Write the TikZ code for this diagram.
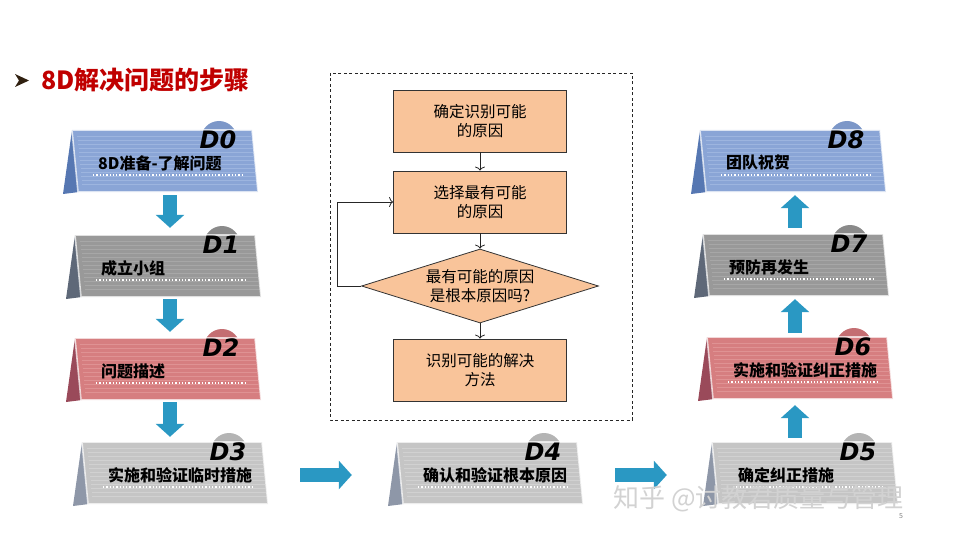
\documentclass[tikz,border=0pt]{standalone}
\usepackage{fontspec}
\setmainfont{Noto Sans CJK SC}
\newfontfamily\dfont{DejaVu Sans}
\usetikzlibrary{arrows.meta}
\usetikzlibrary{calc}
\usetikzlibrary{shapes.geometric}

% card colours: F face, T stripes, S side, B tab
\definecolor{blF}{HTML}{8AA5D6}
\definecolor{blT}{HTML}{A6BCE3}
\definecolor{blS}{HTML}{5677B2}
\definecolor{blB}{HTML}{7C97C8}
\definecolor{grF}{HTML}{999999}
\definecolor{grT}{HTML}{ADADAD}
\definecolor{grS}{HTML}{5E6878}
\definecolor{grB}{HTML}{8A8A8A}
\definecolor{pkF}{HTML}{D67E80}
\definecolor{pkT}{HTML}{E39B9C}
\definecolor{pkS}{HTML}{9A4A5A}
\definecolor{pkB}{HTML}{C46E72}
\definecolor{ltF}{HTML}{C5C5C5}
\definecolor{ltT}{HTML}{D7D7D7}
\definecolor{ltS}{HTML}{8E97A8}
\definecolor{ltB}{HTML}{B4B4B4}
\definecolor{peach}{HTML}{F9C49A}
\definecolor{arrowblue}{HTML}{2A98C3}
\definecolor{titlered}{HTML}{C00000}

\tikzset{
  cardtext/.style={anchor=west, inner sep=0, font=\fontsize{16}{16}\selectfont\bfseries},
  dlabel/.style={inner sep=0, font=\dfont\fontsize{24}{24}\selectfont\bfseries\itshape},
  blockarr/.style={arrowblue, line width=14pt, -{Triangle[length=13pt,width=28pt]}},
  fbox/.style={draw=black!80, fill=peach, line width=0.8pt, minimum width=173, minimum height=62,
    align=center, font=\fontsize{15.5}{19.5}\selectfont},
  fdia/.style={diamond, draw=black!80, fill=peach, line width=0.8pt, inner sep=0, aspect=3.2,
    minimum width=237, minimum height=74, align=center, font=\fontsize{15.5}{19.5}\selectfont},
  flow/.style={black!85, line width=0.8pt, ->, >={To[length=4pt,width=10pt]}}
}

\begin{document}
\begin{tikzpicture}[x=1pt,y=-1pt]
\useasboundingbox (0,0) rectangle (960,540);

% title
\fill[black!75!brown] (15,74) -- (29,80.5) -- (15,87) -- (19,80.5) -- cycle;
\node[anchor=west, inner sep=0, text=titlered, font=\fontsize{25}{25}\selectfont\bfseries] (title) at (41,80) {8D解决问题的步骤};

% cards D0 .. D8
\foreach \x/\y/\n/\txt/\sch in {72/130/0/{8D准备-了解问题}/bl, 75/235/1/{成立小组}/gr,
    75/338/2/{问题描述}/pk, 82/442/3/{实施和验证临时措施}/lt, 397/442/4/{确认和验证根本原因}/lt,
    712/442/5/{确定纠正措施}/lt, 707/337/6/{实施和验证纠正措施}/pk, 703/234/7/{预防再发生}/gr,
    700/130/8/{团队祝贺}/bl} {
  \fill[\sch B] (\x+147,\y+9) circle (18);
  \fill[\sch S] (\x,\y) -- (\x-9,\y+64) -- (\x+7,\y+62) -- cycle;
  \filldraw[fill=\sch F, draw=white, draw opacity=0.7, line width=1.6pt]
    (\x,\y) -- (\x+180,\y) -- (\x+186,\y+62) -- (\x+6,\y+62) -- cycle;
  \foreach \k in {1,...,13}
    \draw[\sch T, line width=0.8pt, opacity=0.7] (\x+5+0.4*\k,\y+4*\k+2) -- (\x+179+0.4*\k,\y+4*\k+2);
  \draw[white, line width=1.3pt, dotted] (\x+21,\y+45) -- (\x+172,\y+45);
  \node[inner sep=0, minimum width=186, minimum height=62] (d\n) at (\x+93,\y+31) {};
  \node[cardtext] (t\n) at (\x+26,\y+33) {\txt};
  \node[dlabel] (l\n) at (\x+146,\y+10) {D\n};
}

% step arrows
\draw[blockarr] ([xshift=5pt,yshift=-3pt]d0.south) -- ([xshift=2pt,yshift=7pt]d1.north);
\draw[blockarr] ([xshift=2pt,yshift=-2pt]d1.south) -- ([xshift=2pt,yshift=6pt]d2.north);
\draw[blockarr] ([xshift=2pt,yshift=-2pt]d2.south) -- ([xshift=-5pt,yshift=5pt]d3.north);
\draw[blockarr] ([xshift=32pt,yshift=-2pt]d3.east) -- ([xshift=-45pt,yshift=-2pt]d4.west);
\draw[blockarr] ([xshift=32pt,yshift=-2pt]d4.east) -- ([xshift=-45pt,yshift=-2pt]d5.west);
\draw[blockarr] ([xshift=-10pt,yshift=4pt]d5.north) -- ([xshift=-5pt,yshift=-6pt]d6.south);
\draw[blockarr] ([xshift=-5pt,yshift=4pt]d6.north) -- ([xshift=-1pt,yshift=-3pt]d7.south);
\draw[blockarr] ([xshift=-1pt,yshift=6pt]d7.north) -- ([xshift=2pt,yshift=-3pt]d8.south);

% root cause loop
\draw[black!85, line width=0.8pt, dash pattern=on 3pt off 2.5pt] (330,73) rectangle (632,420);
\node[fbox] (f1) at (480,121) {确定识别可能\\的原因};
\node[fbox] (f2) at (480,202) {选择最有可能\\的原因};
\node[fdia] (f3) at (480,286) {最有可能的原因\\是根本原因吗?};
\node[fbox] (f4) at (480,370) {识别可能的解决\\方法};
\draw[flow] (f1) -- (f2);
\draw[flow] (f2) -- (f3);
\draw[flow] (f3) -- (f4);
\draw[flow] (f3.west) -- ++(-24,0) |- (f2.west);

% watermark
\node[anchor=west, inner sep=0, text=gray!35, font=\fontsize{26}{26}\selectfont] (wm) at (613,499) {知乎 @讨教君质量与管理};
\node[inner sep=0, text=gray, font=\fontsize{7}{7}\selectfont] (pg) at (901,516) {5};
\end{tikzpicture}
\end{document}
